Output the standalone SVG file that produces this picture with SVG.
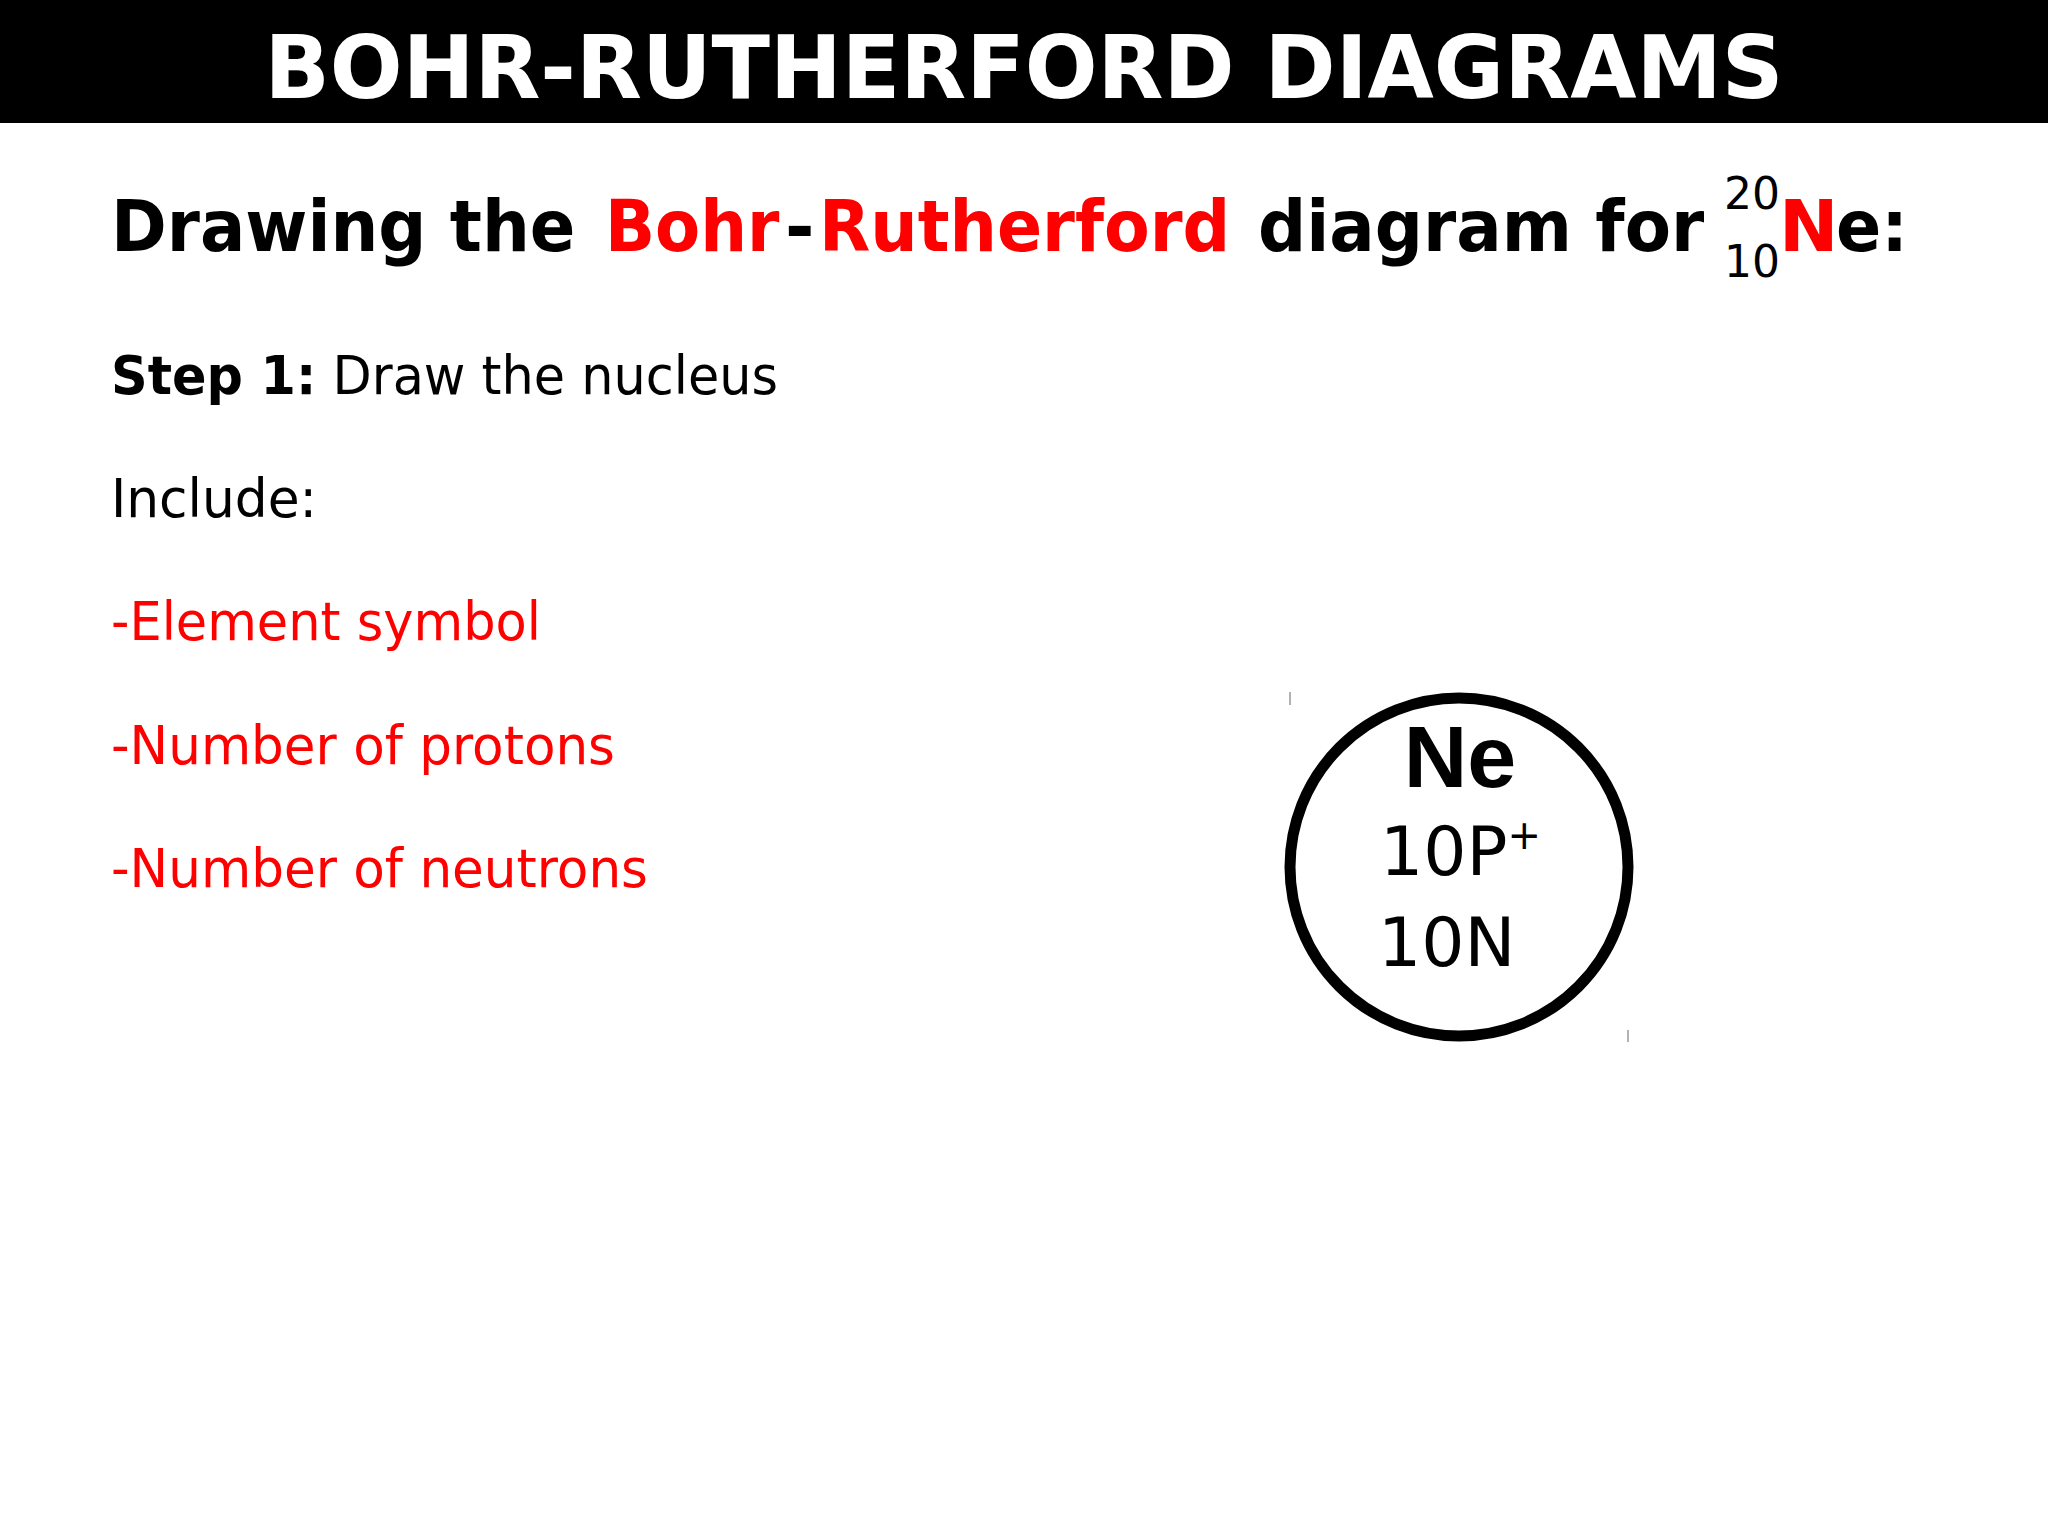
<svg xmlns="http://www.w3.org/2000/svg" width="2048" height="1536" viewBox="0 0 2048 1536">
<style>
.t{font-family:"DejaVu Sans","Verdana",sans-serif}
.b{font-weight:bold}
.red{fill:#ff0000}
.blk{fill:#000}
.body{font-size:53px}
.h{font-size:71px}
</style>
<rect x="0" y="0" width="2048" height="1536" fill="#ffffff"/>
<g id="title">
<rect x="0" y="0" width="2048" height="123" fill="#000"/>
<text class="t b" x="1024" y="98" font-size="88" fill="#fff" text-anchor="middle" textLength="1519" lengthAdjust="spacingAndGlyphs">BOHR-RUTHERFORD DIAGRAMS</text>
</g>
<g id="heading">
<text class="t b h blk" transform="translate(111 251) scale(0.947 1)" x="0" y="0">Drawing the</text>
<text class="t b h red" transform="translate(605 251) scale(0.926 1)" x="0" y="0">Bohr</text>
<text class="t b h blk" x="785" y="251">-</text>
<text class="t b h red" transform="translate(819 251) scale(0.938 1)" x="0" y="0">Rutherford</text>
<text class="t b h blk" transform="translate(1258 251) scale(0.949 1)" x="0" y="0">diagram for</text>
<text class="t blk" x="1724" y="209" font-size="44">20</text>
<text class="t blk" x="1724" y="277" font-size="44">10</text>
<text class="t b h red" x="1779" y="251">N</text>
<text class="t b h blk" transform="translate(1836 251) scale(0.94 1)" x="0" y="0">e:</text>
</g>
<g id="steps">
<text class="t body blk" x="111" y="394" textLength="667" lengthAdjust="spacingAndGlyphs"><tspan class="b">Step 1:</tspan> Draw the nucleus</text>
<text class="t body blk" x="111" y="517" textLength="206" lengthAdjust="spacingAndGlyphs">Include:</text>
<text class="t body red" x="111" y="640" textLength="430" lengthAdjust="spacingAndGlyphs">-Element symbol</text>
<text class="t body red" x="111" y="764" textLength="504" lengthAdjust="spacingAndGlyphs">-Number of protons</text>
<text class="t body red" x="111" y="887" textLength="537" lengthAdjust="spacingAndGlyphs">-Number of neutrons</text>
</g>
<g id="nucleus">
<circle cx="1459" cy="867" r="169" fill="#fff" stroke="#000" stroke-width="11"/>
<text x="1460" y="787" font-family="Liberation Sans, Arial, sans-serif" font-weight="bold" font-size="88" text-anchor="middle">Ne</text>
<text class="t" x="1380" y="875" font-size="68">10P<tspan font-size="40" dy="-26">+</tspan></text>
<text class="t" x="1378" y="966" font-size="68">10N</text>
</g>
<g id="marks" stroke="#999" stroke-width="1.5">
<line x1="1290" y1="692" x2="1290" y2="705"/>
<line x1="1628" y1="1030" x2="1628" y2="1042"/>
</g>
</svg>
